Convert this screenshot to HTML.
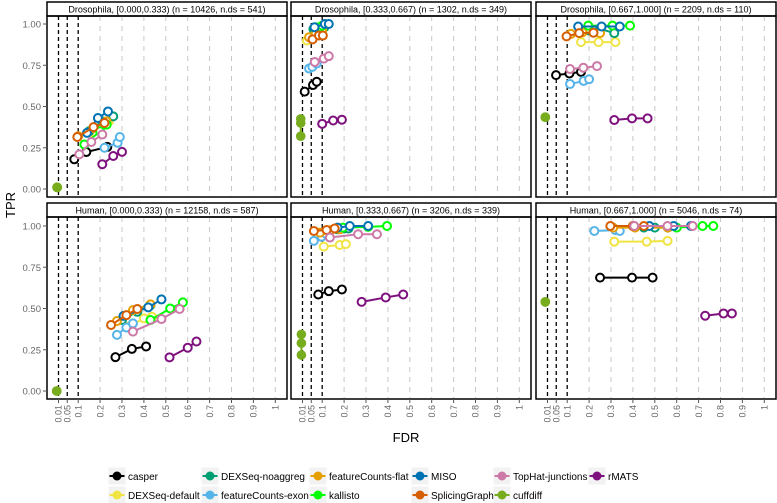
<!DOCTYPE html>
<html><head><meta charset="utf-8">
<style>
html,body{margin:0;padding:0;background:#fff;}
svg{display:block;font-family:"Liberation Sans",sans-serif;}
</style></head>
<body>
<svg id="chart" width="777" height="503" viewBox="0 0 777 503" xmlns="http://www.w3.org/2000/svg">
<text x="0" y="0" transform="translate(15,205) rotate(-90)" font-size="13" text-anchor="middle">TPR</text>
<text x="406" y="442" font-size="13" text-anchor="middle">FDR</text>
<g id="panels"></g>
<g id="legend"></g>
</svg>
<script>
const methods = ["casper","DEXSeq-default","DEXSeq-noaggreg","featureCounts-exon","featureCounts-flat","kallisto","MISO","SplicingGraph","TopHat-junctions","rMATS","cuffdiff"];
const colors = {"casper":"#000000","DEXSeq-default":"#F0E442","DEXSeq-noaggreg":"#009E73","featureCounts-exon":"#56B4E9","featureCounts-flat":"#E69F00","kallisto":"#00FF00","MISO":"#0072B2","SplicingGraph":"#D55E00","TopHat-junctions":"#CC79A7","cuffdiff":"#77AD1C","rMATS":"#7E117E"};
const panelTitles = ["Drosophila, [0.000,0.333) (n = 10426, n.ds = 541)","Drosophila, [0.333,0.667) (n = 1302, n.ds = 349)","Drosophila, [0.667,1.000] (n = 2209, n.ds = 110)","Human, [0.000,0.333) (n = 12158, n.ds = 587)","Human, [0.333,0.667) (n = 3206, n.ds = 339)","Human, [0.667,1.000] (n = 5046, n.ds = 74)"];
const xTicks = [0.01,0.05,0.1,0.2,0.3,0.4,0.5,0.6,0.7,0.8,0.9,1];
const xTickLabels = ["0.01","0.05","0.1","0.2","0.3","0.4","0.5","0.6","0.7","0.8","0.9","1"];
const yTicks = [0,0.25,0.5,0.75,1];
const yTickLabels = ["0.00","0.25","0.50","0.75","1.00"];
const thresholds = [0.01,0.05,0.1];

// Panel 1: Drosophila low
const fdr1 = {"casper":[0.082,0.137,0.233],"DEXSeq-default":[0.15,0.2,0.24],"DEXSeq-noaggreg":[0.15,0.21,0.26],"featureCounts-exon":[0.22,0.28,0.29],"featureCounts-flat":[0.10,0.17,0.23],"kallisto":[0.128,0.2,0.23],"MISO":[0.14,0.19,0.236],"SplicingGraph":[0.096,0.17,0.22],"TopHat-junctions":[0.105,0.16,0.21],"rMATS":[0.21,0.26,0.30],"cuffdiff":[0.003,0.004,0.005]};
const tpr1 = {"casper":[0.18,0.224,0.255],"DEXSeq-default":[0.34,0.37,0.41],"DEXSeq-noaggreg":[0.35,0.41,0.44],"featureCounts-exon":[0.25,0.28,0.315],"featureCounts-flat":[0.32,0.37,0.41],"kallisto":[0.27,0.35,0.39],"MISO":[0.34,0.43,0.47],"SplicingGraph":[0.315,0.375,0.40],"TopHat-junctions":[0.21,0.285,0.33],"rMATS":[0.15,0.20,0.225],"cuffdiff":[0.01,0.01,0.01]};
// Panel 2: Drosophila mid
const fdr2 = {"casper":[0.02,0.058,0.075],"DEXSeq-default":[0.03,0.05,0.07],"DEXSeq-noaggreg":[0.06,0.1,0.11],"featureCounts-exon":[0.04,0.055,0.075],"featureCounts-flat":[0.04,0.07,0.1],"kallisto":[0.07,0.09,0.1],"MISO":[0.065,0.112,0.13],"SplicingGraph":[0.056,0.085,0.103],"TopHat-junctions":[0.066,0.107,0.13],"rMATS":[0.10,0.15,0.19],"cuffdiff":[0.002,0.002,0.002]};
const tpr2 = {"casper":[0.59,0.63,0.65],"DEXSeq-default":[0.90,0.92,0.94],"DEXSeq-noaggreg":[0.97,0.98,0.98],"featureCounts-exon":[0.73,0.74,0.76],"featureCounts-flat":[0.92,0.94,0.96],"kallisto":[0.98,0.98,0.99],"MISO":[0.98,1.0,1.0],"SplicingGraph":[0.907,0.93,0.93],"TopHat-junctions":[0.77,0.79,0.805],"rMATS":[0.395,0.415,0.42],"cuffdiff":[0.32,0.40,0.425]};
// Panel 3: Drosophila high
const fdr3 = {"casper":[0.049,0.11,0.163],"DEXSeq-default":[0.163,0.243,0.32],"DEXSeq-noaggreg":[0.2,0.25,0.315],"featureCounts-exon":[0.113,0.175,0.2],"featureCounts-flat":[0.117,0.17,0.25],"kallisto":[0.196,0.307,0.387],"MISO":[0.15,0.257,0.34],"SplicingGraph":[0.097,0.155,0.22],"TopHat-junctions":[0.113,0.174,0.236],"rMATS":[0.315,0.396,0.467],"cuffdiff":[0.0,0.0,0.0]};
const tpr3 = {"casper":[0.69,0.70,0.71],"DEXSeq-default":[0.89,0.89,0.89],"DEXSeq-noaggreg":[0.96,0.97,0.945],"featureCounts-exon":[0.636,0.655,0.665],"featureCounts-flat":[0.94,0.95,0.945],"kallisto":[0.99,0.99,0.99],"MISO":[0.985,0.985,0.985],"SplicingGraph":[0.925,0.945,0.947],"TopHat-junctions":[0.727,0.735,0.745],"rMATS":[0.418,0.428,0.428],"cuffdiff":[0.435,0.435,0.435]};
// Panel 4: Human low
const fdr4 = {"casper":[0.27,0.345,0.41],"DEXSeq-default":[0.33,0.40,0.437],"DEXSeq-noaggreg":[0.30,0.37,0.43],"featureCounts-exon":[0.277,0.32,0.35],"featureCounts-flat":[0.277,0.35,0.43],"kallisto":[0.43,0.52,0.578],"MISO":[0.307,0.42,0.48],"SplicingGraph":[0.25,0.32,0.37],"TopHat-junctions":[0.35,0.48,0.563],"rMATS":[0.517,0.60,0.64],"cuffdiff":[0.002,0.002,0.002]};
const tpr4 = {"casper":[0.205,0.255,0.27],"DEXSeq-default":[0.39,0.44,0.45],"DEXSeq-noaggreg":[0.43,0.48,0.52],"featureCounts-exon":[0.34,0.385,0.41],"featureCounts-flat":[0.424,0.49,0.525],"kallisto":[0.43,0.50,0.537],"MISO":[0.455,0.507,0.555],"SplicingGraph":[0.40,0.46,0.497],"TopHat-junctions":[0.36,0.436,0.497],"rMATS":[0.204,0.262,0.30],"cuffdiff":[0.0,0.0,0.0]};
// Panel 5: Human mid
const fdr5 = {"casper":[0.082,0.13,0.19],"DEXSeq-default":[0.107,0.18,0.208],"DEXSeq-noaggreg":[0.17,0.2,0.22],"featureCounts-exon":[0.062,0.097,0.12],"featureCounts-flat":[0.09,0.14,0.18],"kallisto":[0.195,0.31,0.396],"MISO":[0.17,0.226,0.31],"SplicingGraph":[0.062,0.12,0.157],"TopHat-junctions":[0.135,0.264,0.35],"rMATS":[0.28,0.39,0.47],"cuffdiff":[0.005,0.005,0.005]};
const tpr5 = {"casper":[0.585,0.605,0.615],"DEXSeq-default":[0.875,0.885,0.89],"DEXSeq-noaggreg":[0.98,0.985,0.985],"featureCounts-exon":[0.91,0.935,0.95],"featureCounts-flat":[0.96,0.975,0.98],"kallisto":[0.99,0.995,1.0],"MISO":[0.99,1.0,1.0],"SplicingGraph":[0.97,0.976,0.985],"TopHat-junctions":[0.93,0.95,0.95],"rMATS":[0.54,0.567,0.585],"cuffdiff":[0.218,0.29,0.343]};
// Panel 6: Human high
const fdr6 = {"casper":[0.25,0.396,0.49],"DEXSeq-default":[0.315,0.463,0.558],"DEXSeq-noaggreg":[0.45,0.5,0.56],"featureCounts-exon":[0.224,0.32,0.34],"featureCounts-flat":[0.31,0.41,0.56],"kallisto":[0.6,0.718,0.767],"MISO":[0.475,0.586,0.665],"SplicingGraph":[0.297,0.40,0.45],"TopHat-junctions":[0.406,0.558,0.673],"rMATS":[0.73,0.814,0.852],"cuffdiff":[0.0,0.0,0.0]};
const tpr6 = {"casper":[0.687,0.687,0.687],"DEXSeq-default":[0.905,0.905,0.91],"DEXSeq-noaggreg":[0.99,0.99,0.99],"featureCounts-exon":[0.97,0.975,0.97],"featureCounts-flat":[0.99,0.99,0.99],"kallisto":[0.99,1.0,1.0],"MISO":[1.0,1.0,1.0],"SplicingGraph":[1.0,1.0,1.0],"TopHat-junctions":[1.0,1.0,1.0],"rMATS":[0.456,0.47,0.47],"cuffdiff":[0.54,0.54,0.54]};

const panelFdr = [fdr1,fdr2,fdr3,fdr4,fdr5,fdr6];
const panelTpr = [tpr1,tpr2,tpr3,tpr4,tpr5,tpr6];

const NS = "http://www.w3.org/2000/svg";
function mk(tag, attrs, parent){const e=document.createElementNS(NS,tag);for(const k in attrs)e.setAttribute(k,attrs[k]);parent.appendChild(e);return e;}
const plotLefts=[47,291,536], plotW=240;
const plotTops=[16,217], plotHs=[181,182];
const y0s=[189,391], yScale=165, xScale=219;
const root=document.getElementById("panels");

for(let p=0;p<6;p++){
  const col=p%3,row=Math.floor(p/3);
  const L=plotLefts[col],T=plotTops[row],H=plotHs[row];
  const x0=L+9.3,y0=y0s[row];
  const xs=v=>x0+v*xScale, ys=v=>y0-v*yScale;
  const g=mk("g",{},root);
  
  
  const st=mk("rect",{x:L,y:T-14,width:plotW,height:14,fill:"#fff",stroke:"#000","stroke-width":1.5},g);
  
  
  const stt=mk("text",{x:L+plotW/2,y:T-3.5,"font-size":9,"text-anchor":"middle",fill:"#000"},g);
  stt.textContent=panelTitles[p];
  
  
  xTicks.forEach((t,i)=>{
    const isT=thresholds.includes(t);
    const gl=mk("line",{x1:xs(t),x2:xs(t),y1:T,y2:T+H,stroke:isT?"#000":"#c8c8c8","stroke-width":isT?1.3:1,"stroke-dasharray":isT?"4,3":"5,5"},g);
    
    
  });
  methods.forEach(m=>{
    const fx=panelFdr[p][m],ty=panelTpr[p][m];
    const sg=mk("g",{},g);
    
    
    const pts=fx.map((v,i)=>xs(v)+","+ys(ty[i])).join(" ");
    const pl=mk("polyline",{points:pts,fill:"none",stroke:colors[m],"stroke-width":2},sg);
    
    
    fx.forEach((v,i)=>{
      const filled=(m==="cuffdiff");
      const c=mk("circle",{cx:xs(v),cy:ys(ty[i]),r:filled?4.8:4,fill:filled?colors[m]:"#fff",stroke:colors[m],"stroke-width":filled?0:2},sg);
      
      
    });
  });
  const bd=mk("rect",{x:L,y:T,width:plotW,height:H,fill:"none",stroke:"#000","stroke-width":1.5},g);
  
  
  if(col===0){
    yTicks.forEach((t,i)=>{
      const tk=mk("line",{x1:L-4,x2:L,y1:ys(t),y2:ys(t),stroke:"#555","stroke-width":1},g);
      
      
      const tl=mk("text",{x:L-6,y:ys(t)+3.5,"font-size":9.5,"text-anchor":"end",fill:"#666"},g);
      tl.textContent=yTickLabels[i];
      
      
    });
  }
  if(row===1){
    xTicks.forEach((t,i)=>{
      const tk=mk("line",{x1:xs(t),x2:xs(t),y1:T+H,y2:T+H+4,stroke:"#555","stroke-width":1},g);
      
      
      const tl=mk("text",{x:0,y:0,"font-size":9,"text-anchor":"end",fill:"#666",transform:"translate("+(xs(t)+3.2)+","+(T+H+6)+") rotate(-90)"},g);
      tl.textContent=xTickLabels[i];
      
      
    });
  }
}

const legendRows=[["casper","DEXSeq-noaggreg","featureCounts-flat","MISO","TopHat-junctions","rMATS"],["DEXSeq-default","featureCounts-exon","kallisto","SplicingGraph","cuffdiff"]];
const legendColX=[117,210,318,420,502,597];
const legendRowY=[476,495];
const lg=document.getElementById("legend");
legendRows.forEach((r,ri)=>r.forEach((m,ci)=>{
  const cx=legendColX[ci],cy=legendRowY[ri];
  const e=mk("g",{},lg);
  
  
  mk("rect",{x:cx-8.5,y:cy-8.5,width:17,height:17,fill:"#f2f2f2"},e);
  mk("line",{x1:cx-7.5,x2:cx+7.5,y1:cy,y2:cy,stroke:colors[m],"stroke-width":2},e);
  mk("circle",{cx:cx,cy:cy,r:4.5,fill:colors[m]},e);
  const t=mk("text",{x:cx+11,y:cy+3.8,"font-size":10,fill:"#000"},e);
  t.textContent=m;
}));
</script>
</body></html>
